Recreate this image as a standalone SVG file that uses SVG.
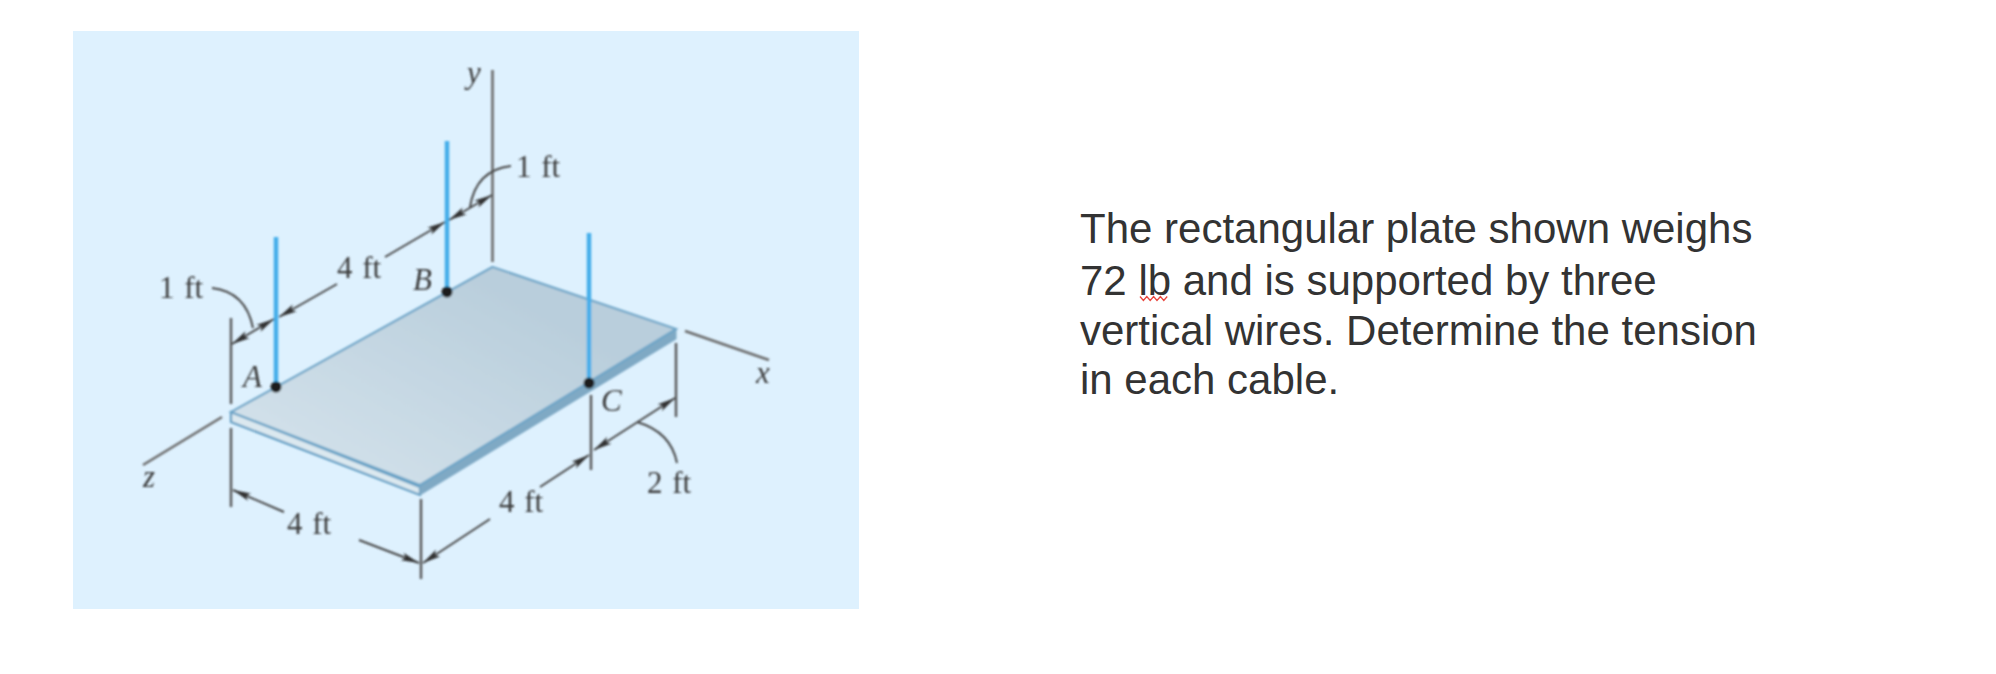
<svg xmlns="http://www.w3.org/2000/svg" width="1996" height="674" viewBox="0 0 1996 674">
<style>
.lbl{font-family:"Liberation Serif","Times New Roman",serif;font-size:31px;word-spacing:2px;fill:#3a3a3a}
.it{font-style:italic}
.ax{stroke:#6a6a6a;stroke-width:2.6;fill:none}
.ext{stroke:#555;stroke-width:2.4;fill:none}
.dim{stroke:#444;stroke-width:2;fill:none}
.wire{stroke:#45aeea;stroke-width:4.5;fill:none}
.dot{fill:#1c1c1c}
.body{font-family:"Liberation Sans",Arial,sans-serif;font-size:42px;fill:#333}
</style>
<defs>
<linearGradient id="face" gradientUnits="userSpaceOnUse" x1="470" y1="270" x2="350" y2="490">
<stop offset="0" stop-color="#b9cedc"/><stop offset="1" stop-color="#d2e1ea"/>
</linearGradient>
<marker id="arr" markerUnits="userSpaceOnUse" markerWidth="22" markerHeight="12" refX="18" refY="6" orient="auto-start-reverse">
<path d="M0 2 L18 6 L0 10 L4 6 Z" fill="#333"/>
</marker>
<filter id="soft" x="-5%" y="-5%" width="110%" height="110%"><feGaussianBlur stdDeviation="1"/></filter>
</defs>
<rect id="panel" x="73" y="31" width="786" height="578" fill="#def1fe"/>
<g filter="url(#soft)">
<g id="axes">
<line class="ax" x1="492.5" y1="70" x2="492.5" y2="262"/>
<line class="ax" x1="222" y1="417" x2="143" y2="465"/>
<line class="ax" x1="685" y1="331" x2="769" y2="360"/>
</g>
<g id="plate">
<path d="M231 412 L420 487 L420 495 L231 422 Z" fill="#dbe8ef" stroke="#5f9cc2" stroke-width="2.2"/>
<path d="M420 485 L676 329 L676 339 L420 495 Z" fill="#7fa9c4" stroke="#7fa9c4" stroke-width="1"/>
<path d="M492.5 267 L676 329 L420 485 L231 412 Z" fill="url(#face)" stroke="#6fa6c8" stroke-width="2.2"/>
</g>
<g id="wire-A"><line class="wire" x1="276" y1="237" x2="276" y2="387"/><circle class="dot" cx="276" cy="387" r="5.5"/></g>
<g id="wire-B"><line class="wire" x1="447" y1="141" x2="447" y2="292"/><circle class="dot" cx="447" cy="292" r="5.5"/></g>
<g id="wire-C"><line class="wire" x1="589" y1="233" x2="589" y2="383"/><circle class="dot" cx="589" cy="383" r="5.5"/></g>
<g id="connectors">
<line class="ext" x1="231" y1="318" x2="231" y2="404"/>
<line class="ext" x1="231" y1="428" x2="231" y2="507"/>
<line class="ext" x1="421" y1="499" x2="421" y2="579"/>
<line class="ext" x1="591" y1="395" x2="591" y2="470"/>
<line class="ext" x1="676" y1="343" x2="676" y2="417"/>
<line class="dim" x1="284" y1="512" x2="233" y2="490" marker-end="url(#arr)"/>
<line class="dim" x1="359" y1="540" x2="419" y2="563" marker-end="url(#arr)"/>
<line class="dim" x1="490" y1="519" x2="423" y2="563" marker-end="url(#arr)"/>
<line class="dim" x1="540" y1="487" x2="589" y2="455" marker-end="url(#arr)"/>
<line class="dim" x1="594" y1="450" x2="675" y2="398" marker-start="url(#arr)" marker-end="url(#arr)"/>
<path class="dim" d="M637 422 Q671 432 677 463"/>
<line class="dim" x1="232" y1="344" x2="274" y2="319" marker-start="url(#arr)" marker-end="url(#arr)"/>
<path class="dim" d="M212 288 Q246 292 253 328"/>
<line class="dim" x1="337" y1="284" x2="279" y2="317" marker-end="url(#arr)"/>
<line class="dim" x1="385" y1="257" x2="445" y2="222" marker-end="url(#arr)"/>
<line class="dim" x1="449" y1="220" x2="492" y2="195" marker-start="url(#arr)" marker-end="url(#arr)"/>
<path class="dim" d="M511 166 Q476 170 470 207"/>
</g>
<g id="labels">
<text class="lbl" x="159" y="298">1 ft</text>
<text class="lbl" x="337" y="278">4 ft</text>
<text class="lbl it" x="413" y="290">B</text>
<text class="lbl it" x="467" y="83">y</text>
<text class="lbl" x="516" y="177">1 ft</text>
<text class="lbl it" x="243" y="387">A</text>
<text class="lbl it" x="601" y="411">C</text>
<text class="lbl it" x="756" y="383">x</text>
<text class="lbl it" x="143" y="487">z</text>
<text class="lbl" x="287" y="534">4 ft</text>
<text class="lbl" x="499" y="512">4 ft</text>
<text class="lbl" x="647" y="493">2 ft</text>
</g>
</g>
<g id="problem-text">
<text class="body" x="1080" y="243">The rectangular plate shown weighs</text>
<text class="body" x="1080" y="295">72 lb and is supported by three</text>
<text class="body" x="1080" y="345">vertical wires. Determine the tension</text>
<text class="body" x="1080" y="394">in each cable.</text>
<path d="M1140 296.5 l3.4 4 l3.4 -4 l3.4 4 l3.4 -4 l3.4 4 l3.4 -4 l3.4 4 l3.4 -4" fill="none" stroke="#e8453c" stroke-width="1.3"/>
</g>
</svg>
